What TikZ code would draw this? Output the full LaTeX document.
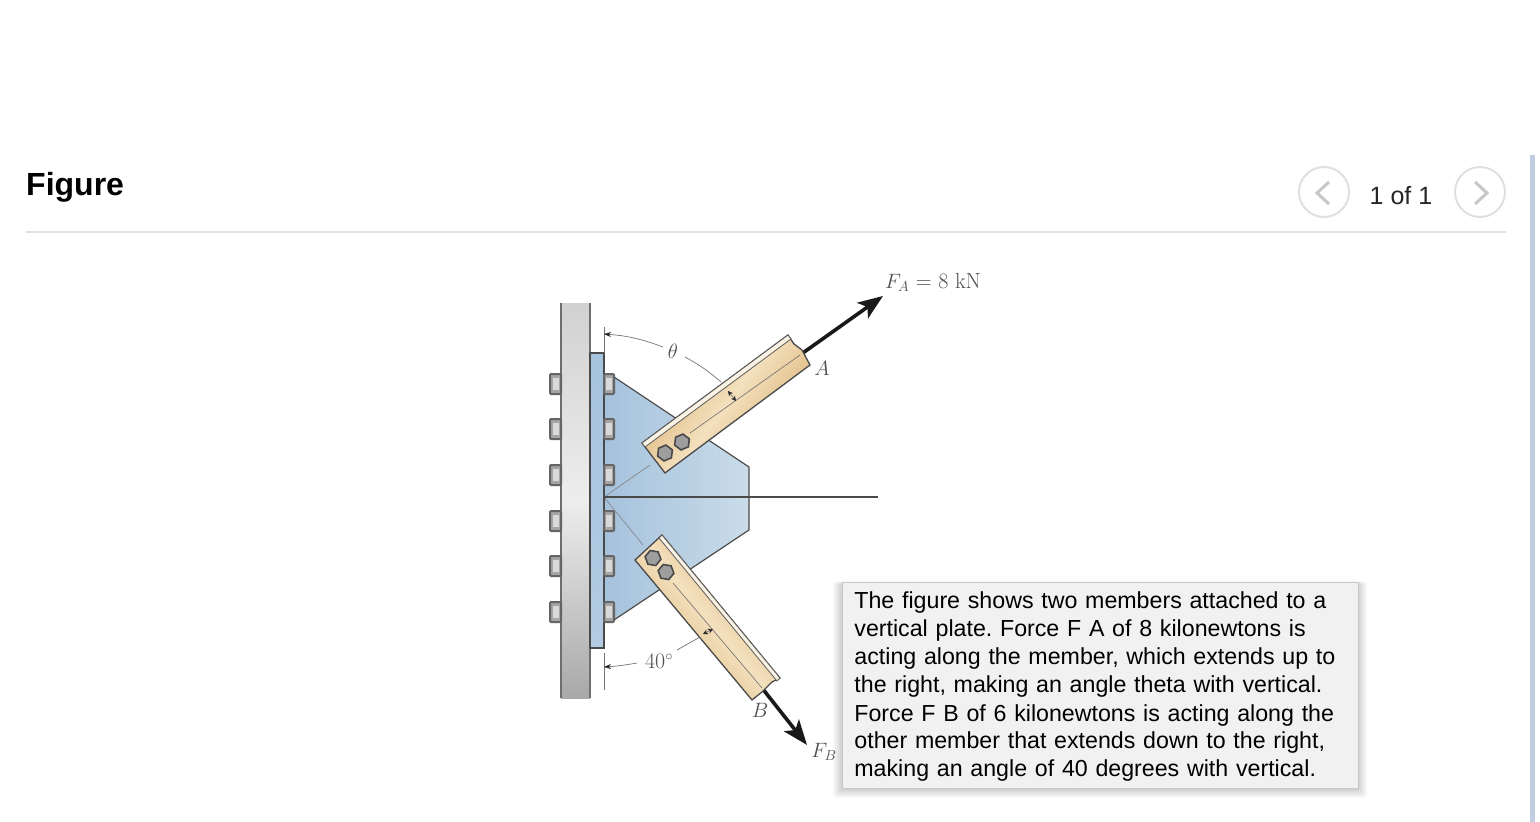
\documentclass[tikz,border=0pt]{standalone}
\usepackage{fontspec}
\setsansfont{Liberation Sans}
\usetikzlibrary{arrows.meta,shapes.geometric}
\definecolor{rulegray}{HTML}{E0E0E0}
\definecolor{inkgray}{HTML}{505050}
\definecolor{edgegray}{HTML}{4A4A4A}
\definecolor{tanedge}{HTML}{D9AE6C}
\definecolor{tanmid}{HTML}{F3E0BE}
\definecolor{stripe}{HTML}{FAF3E4}
\definecolor{plateblue}{HTML}{A6C3DE}
\definecolor{gussetdark}{HTML}{A5C2DC}
\definecolor{gussetlight}{HTML}{CADCE9}
\definecolor{tipbox}{HTML}{F1F1F1}
\definecolor{scrollblue}{HTML}{C0CCE0}
\tikzset{
    lbl/.style={text=inkgray, inner sep=0pt, font=\fontsize{22}{26}\selectfont},
    dimline/.style={draw=inkgray!80, line width=0.7pt},
    dimtip/.style={-{Stealth[length=7pt,width=5pt,color=black!85]}},
    twintip/.style={{Stealth[length=5pt,width=5pt,color=black!85]}-{Stealth[length=5pt,width=5pt,color=black!85]}},
    forcearrow/.style={line width=3.6pt, black!90, -{Stealth[length=25pt,width=19pt,inset=6pt]}},
    navbtn/.style={circle, draw=rulegray, line width=2pt, minimum size=50pt, inner sep=0pt},
    chevron/.style={draw=black!22, line width=3pt},
    boltbody/.style={fill=black!35, draw=edgegray!85, line width=2pt, rounded corners=1pt},
    nut/.style={regular polygon, regular polygon sides=6, fill=black!38, draw=edgegray, line width=1.6pt, minimum size=16pt, inner sep=0pt},
}
\begin{document}
\begin{tikzpicture}[x=1pt, y=-1pt]
    \useasboundingbox (0,0) rectangle (1540,822);
    \fill[white] (0,0) rectangle (1540,822);
    % header
    \fill[scrollblue] (1530,155) rectangle (1535,822);
    \node[anchor=west, inner sep=0pt, font=\fontsize{32}{36}\selectfont\sffamily\bfseries] (title) at (26,187) {Figure};
    \draw[rulegray, line width=1.4pt] (26,232) -- (1506,232);
    \node[navbtn] (prev) at (1324,192) {};
    \node[navbtn] (next) at (1480,192) {};
    \draw[chevron] (1329,182) -- (1317,193) -- (1329,204);
    \draw[chevron] (1475,182) -- (1487,193) -- (1475,204);
    \node[inner sep=0pt, font=\fontsize{25}{28}\selectfont\sffamily, text=black!85] (page) at (1401,196) {1 of 1};
    % wall and plate
    \coordinate (o) at (604,497);
    \shade[top color=black!18, bottom color=black!34, middle color=black!7] (561,303) rectangle (590,698);
    \draw[edgegray!80, line width=1.2pt] (561,303) -- (561,698) (590,303) -- (590,698);
    % gusset
    \shade[left color=gussetdark, right color=gussetlight, draw=edgegray, line width=1.2pt]
        (604,375) -- (614,377) -- (749,467) -- (749,530) -- (614,620) -- (604,622) -- cycle;
    \shade[top color=plateblue, bottom color=plateblue!85, draw=edgegray, line width=1.1pt] (590,353) rectangle (604,648);
    % bolts
    \foreach \y in {384,429,475,521,566,612} {
        \filldraw[boltbody] (550,\y-10) rectangle (561,\y+10);
        \fill[black!15] (553,\y-6) rectangle (559,\y+6);
        \filldraw[boltbody] (604,\y-10) rectangle (614,\y+10);
        \fill[black!15] (606,\y-6) rectangle (612,\y+6);
    }
    % reference lines
    \coordinate (ha) at (650,465); \coordinate (hb) at (643,545); \coordinate (xe) at (878,497);
    \draw[edgegray!70, line width=0.6pt] (o) -- (ha);
    \draw[edgegray!70, line width=0.6pt] (o) -- (hb);
    \draw[edgegray, line width=1.3pt] (o) -- (xe);
    % member a
    \coordinate (a1) at (642,443); \coordinate (a2) at (665,473);
    \coordinate (a3) at (810,365); \coordinate (a4) at (788,335);
    \coordinate (a5) at (800,355); \coordinate (a6) at (883,296); \coordinate (a7) at (690,433);
    \draw[forcearrow] (a5) -- (a6);
    \shade[left color=tanedge, right color=tanedge, middle color=tanmid, shading angle=53, draw=edgegray, line width=1.3pt]
        (a1) -- (a2) -- (a3) -- (802,350) -- (794,344) -- (a4) -- cycle;
    \draw[edgegray!90, line width=0.8pt, fill=stripe] (a1) -- (a4) -- (791,339) -- (645,447) -- cycle;
    \draw[edgegray!80, line width=0.6pt] (a7) -- (a5);
    \node[nut, rotate=-37] (na1) at (665,453) {};
    \node[nut, rotate=-37] (na2) at (682,442) {};
    % member b
    \coordinate (b1) at (662,535); \coordinate (b2) at (635,560);
    \coordinate (b3) at (752,700); \coordinate (b4) at (780,678);
    \coordinate (b5) at (762,688); \coordinate (b6) at (807,745); \coordinate (b7) at (673,583);
    \draw[forcearrow] (b5) -- (b6);
    \shade[left color=tanedge, right color=tanedge, middle color=tanmid, shading angle=-50, draw=edgegray, line width=1.3pt]
        (b1) -- (b2) -- (b3) -- (762,692) -- (772,682) -- (b4) -- cycle;
    \draw[edgegray!90, line width=0.8pt, fill=stripe] (b1) -- (b4) -- (777,681) -- (659,538) -- cycle;
    \draw[edgegray!80, line width=0.6pt] (b7) -- (b5);
    \node[nut, rotate=50] (nb1) at (653,558) {};
    \node[nut, rotate=50] (nb2) at (666,572) {};
    % angle marks
    \draw[dimline] (604,327) -- (604,353);
    \draw[dimline] (604,653) -- (604,690);
    \draw[dimline, dimtip] (663,347) to[bend right=8] (604,334);
    \draw[dimline] (685,357) to[bend left=6] (721,382);
    \draw[dimline, twintip] (728,391) -- (736,401);
    \draw[dimline, dimtip] (637,663) to[bend left=3] (604,667);
    \draw[dimline] (677,650) -- (700,637);
    \draw[dimline, twintip] (703,634) -- (713,629);
    % labels
    \node[lbl] (theta) at (673,351) {$\theta$};
    \node[lbl] (angb) at (659,661) {40$^\circ$};
    \node[lbl] (lba) at (822,368) {$A$};
    \node[lbl] (lbb) at (760,710) {$B$};
    \node[lbl] (fa) at (933,282) {$F_A$ = 8 kN};
    \node[lbl] (fb) at (824,752) {$F_B$};
    % description box
    \foreach \s in {1,...,9} \fill[black, opacity=0.018, rounded corners=3pt] (842-\s,584-0.3*\s) rectangle (1358+\s,788+\s+1);
    \node[anchor=north west, fill=tipbox, draw=black!22, line width=0.8pt, inner sep=0pt, inner xsep=12pt,
        text width=492pt, minimum height=206pt, align=left, font=\fontsize{23.2}{28}\selectfont\sffamily\frenchspacing] (desc) at (842,582)
        {\rule{0pt}{20pt}The figure shows two members attached to a\\
        vertical plate. Force F A of 8 kilonewtons is\\
        acting along the member, which extends up to\\
        the right, making an angle theta with vertical.\\
        Force F B of 6 kilonewtons is acting along the\\
        other member that extends down to the right,\\
        making an angle of 40 degrees with vertical.};
\end{tikzpicture}
\end{document}
